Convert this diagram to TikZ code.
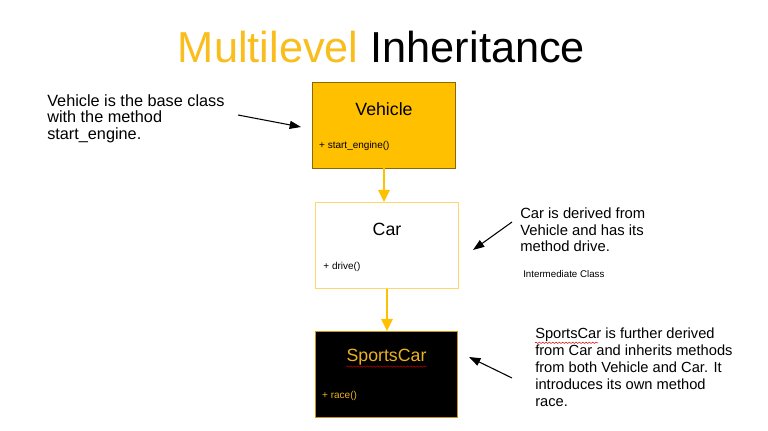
\documentclass[tikz,border=0pt]{standalone}
\usepackage{fontspec}
\setmainfont{Liberation Sans}
\usepackage{xcolor}
\usetikzlibrary{positioning, arrows.meta, calc, decorations.pathmorphing}
\definecolor{amber}{RGB}{255, 192, 0}
\definecolor{titleor}{RGB}{249, 190, 29}
\definecolor{vehline}{RGB}{140, 105, 0}
\definecolor{carline}{RGB}{255, 214, 110}
\definecolor{scline}{RGB}{200, 150, 20}
\definecolor{sctext}{RGB}{236, 178, 30}

\begin{document}
\begin{tikzpicture}[
  x=0.75pt, y=-0.75pt,
  cls/.style={rectangle, minimum width=107pt, minimum height=64.5pt, inner sep=0pt},
  cname/.style={inner sep=1pt, font=\fontsize{13.3}{15}\selectfont},
  meth/.style={inner sep=0pt, anchor=west, font=\fontsize{7.5}{8}\selectfont},
  note/.style={inner sep=0pt, anchor=north west, align=left},
  inh/.style={-{Triangle[length=9pt, width=8.5pt]}, line width=1.6pt, amber},
  ptr/.style={-{Triangle[length=8.5pt, width=6pt]}, line width=0.8pt, black},
  squiggle/.style={red!80!black, line width=0.35pt, decorate, decoration={snake, amplitude=0.5pt, segment length=2.5pt}},
]
  \useasboundingbox (0,0) rectangle (768,431);
  \fill[white] (0,0) rectangle (768,431);

  % Title
  \node[font=\fontsize{32.5}{36}\selectfont] (title) at (381.5,47) {{\color{titleor}Multilevel} Inheritance};

  % Classes
  \node[cls, fill=amber, draw=vehline, line width=0.6pt] (veh) at (384,125) {};
  \node[cls, fill=white, draw=carline, line width=0.8pt] (car) at (387,245.5) {};
  \node[cls, fill=black, draw=scline, line width=0.8pt] (sc) at (386.5,374.5) {};

  \node[cname] (vehname) at ([yshift=-21pt]veh.north) {Vehicle};
  \node[meth] (vehmeth) at ([xshift=5pt, yshift=17pt]veh.south west) {+ start\_engine()};

  \node[cname] (carname) at ([yshift=-20.5pt]car.north) {Car};
  \node[meth] (carmeth) at ([xshift=6pt, yshift=16.5pt]car.south west) {+ drive()};

  \node[cname, text=sctext] (scname) at ([yshift=-19.5pt]sc.north) {SportsCar};
  \node[meth, text=sctext] (scmeth) at ([xshift=5.5pt, yshift=16.5pt]sc.south west) {+ race()};
  \draw[squiggle] ([xshift=1pt]scname.south west) -- ([xshift=-1pt]scname.south east);

  % Inheritance
  \draw[inh] (veh.south) -- (veh.south |- car.north);
  \draw[inh] (car.south) -- (car.south |- sc.north);

  % Notes
  \node[note, font=\fontsize{12.2}{12.4}\selectfont] (vehnote) at (47,94) {Vehicle is the base class\\with the method\\start\_engine.};
  \node[note, font=\fontsize{11.1}{12.4}\selectfont] (carnote) at (520,207.5) {Car is derived from\\Vehicle and has its\\method drive.};
  \node[inner sep=0pt, anchor=west, font=\fontsize{7.3}{8}\selectfont] (midnote) at (523,274) {Intermediate Class};
  \node[note, font=\fontsize{11}{12.75}\selectfont] (scnote) at (535,327.5) {SportsCar is further derived\\from Car and inherits methods\\from both Vehicle and Car. It\\introduces its own method\\race.};

  \coordinate (vehfrom) at (238,115);
  \coordinate (vehto) at (301,127);
  \coordinate (carfrom) at (512,222);
  \coordinate (carto) at (473,250);
  \coordinate (scfrom) at (512,378);
  \coordinate (scto) at (469,357);
  \draw[ptr] (vehfrom) -- (vehto);
  \draw[ptr] (carfrom) -- (carto);
  \draw[ptr] (scfrom) -- (scto);

  % spell-check mark in the note
  \path (scnote.north west) ++(0,15.3) coordinate (sqa) ++(63,0) coordinate (sqb);
  \draw[squiggle] (sqa) -- (sqb);
\end{tikzpicture}
\end{document}
